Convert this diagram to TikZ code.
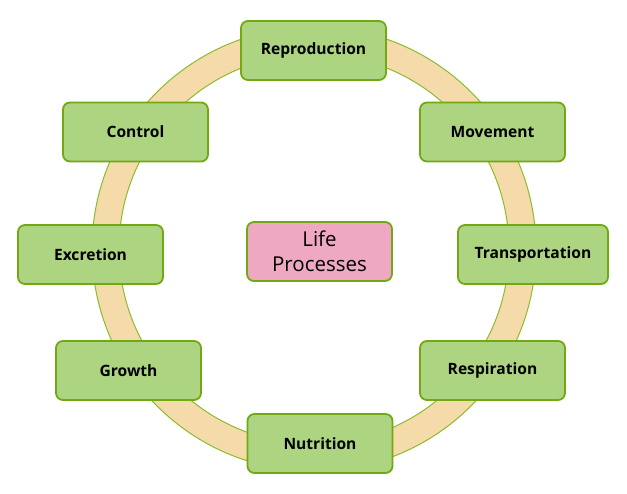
\documentclass[tikz,border=0pt]{standalone}
\usepackage{fontspec}
\setmainfont{Open Sans}
\definecolor{boxfill}{HTML}{ADD581}
\definecolor{boxline}{HTML}{72A812}
\definecolor{ringfill}{HTML}{F5DBAA}
\definecolor{ringline}{HTML}{8CBB2C}
\definecolor{pinkfill}{HTML}{EFA8C2}
\begin{document}
\begin{tikzpicture}[x=1pt,y=-1pt,
  procbox/.style={draw=boxline,line width=1.8pt,fill=boxfill,rounded corners=7pt,
    minimum width=145pt,minimum height=59pt,inner sep=0pt,font=\fontsize{15.6}{18}\selectfont\bfseries},
  centerbox/.style={procbox,fill=pinkfill,font=\fontsize{20.5}{25}\selectfont,align=center}]
\useasboundingbox (0,0) rectangle (627,494);
\coordinate (c) at (314,249);
\fill[ringfill,even odd rule] (c) circle[radius=222] (c) circle[radius=195];
\draw[ringline,line width=1pt] (c) circle[radius=222] (c) circle[radius=195];
\node[procbox] (repro) at (313.5,50.5) {Reproduction};
\node[procbox] (move) at (492.5,132) {Movement};
\node[procbox,minimum width=150pt] (trans) at (533,254.5) {Transportation};
\node[procbox] (resp) at (492.5,370.5) {Respiration};
\node[procbox] (nutr) at (320,443.5) {Nutrition};
\node[procbox] (grow) at (128.5,370.5) {Growth};
\node[procbox] (excr) at (90.5,254.5) {Excretion};
\node[procbox] (ctrl) at (135.5,132) {Control};
\node[centerbox] (life) at (319.5,251.5) {Life\\Processes};
\end{tikzpicture}
\end{document}
